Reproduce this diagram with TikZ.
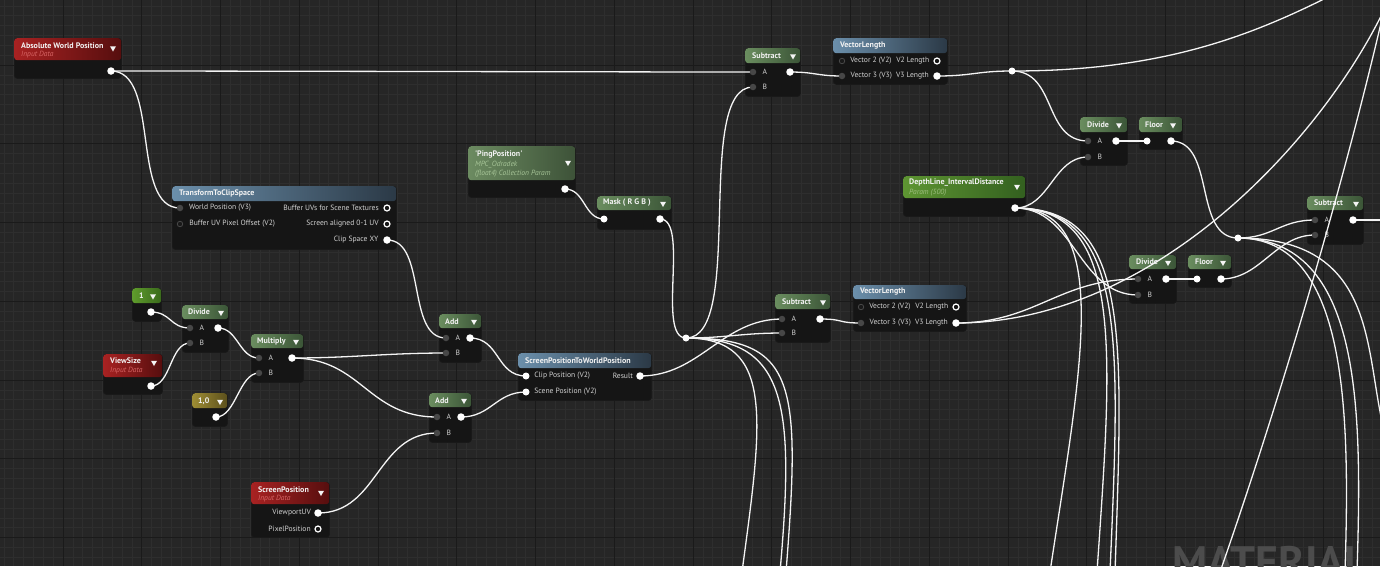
\documentclass[tikz,border=0pt]{standalone}
\usepackage{fontspec}
\setmainfont{PT Sans}
\usetikzlibrary{positioning,shapes.geometric}
\definecolor{canvas}{HTML}{262626}
\definecolor{gridminor}{HTML}{2E2E2E}
\definecolor{gridmajor}{HTML}{1A1A1A}
\definecolor{bodyc}{HTML}{151515}
\definecolor{titlec}{HTML}{F2F2F2}
\definecolor{lblc}{HTML}{D2D2D2}
\definecolor{pinc}{HTML}{474747}
\definecolor{wirec}{HTML}{F4F4F4}
\definecolor{mathL}{HTML}{6A8D5F}
\definecolor{mathR}{HTML}{3B5537}
\definecolor{inL}{HTML}{A82222}
\definecolor{inR}{HTML}{560E0E}
\definecolor{funL}{HTML}{6B8FAB}
\definecolor{funR}{HTML}{2B3946}
\definecolor{cstL}{HTML}{5F9C2C}
\definecolor{cstR}{HTML}{3A6A1C}
\definecolor{vecL}{HTML}{9E8D34}
\definecolor{vecR}{HTML}{5C501C}
\definecolor{parL}{HTML}{5E9532}
\definecolor{parR}{HTML}{33601F}
\definecolor{mpcL}{HTML}{6C8B61}
\definecolor{mpcR}{HTML}{3D5238}
\definecolor{subinc}{HTML}{D86666}
\definecolor{submpc}{HTML}{A6C497}
\definecolor{subpar}{HTML}{9FBF80}
\definecolor{wmarkc}{HTML}{4C4C4C}
\pgfdeclarelayer{grid}
\pgfdeclarelayer{wires}
\pgfdeclarelayer{pins}
\pgfsetlayers{grid,main,wires,pins}
\tikzset{
  every node/.style={font=\fontsize{7.6}{9}\selectfont,text=lblc,inner sep=0pt},
  minorgrid/.style={draw=gridminor,line width=0.6pt},
  majorgrid/.style={draw=gridmajor,line width=1pt},
  body/.style={draw=black!90,line width=0.8pt,fill=bodyc,rounded corners=3pt,anchor=north west},
  hdr/.style={rounded corners=3pt,anchor=north west},
  mathhdr/.style={hdr,left color=mathL,right color=mathR},
  inhdr/.style={hdr,left color=inL,right color=inR},
  funhdr/.style={hdr,left color=funL,right color=funR},
  csthdr/.style={hdr,left color=cstL,right color=cstR},
  vechdr/.style={hdr,left color=vecL,right color=vecR},
  parhdr/.style={hdr,left color=parL,right color=parR},
  mpchdr/.style={hdr,left color=mpcL,right color=mpcR},
  title/.style={anchor=west,font=\fontsize{8}{9}\selectfont\bfseries,text=titlec},
  subin/.style={anchor=west,font=\fontsize{7.5}{8}\selectfont\itshape,text=subinc},
  submpc/.style={anchor=west,font=\fontsize{7.5}{8}\selectfont\itshape,text=submpc},
  subpar/.style={anchor=west,font=\fontsize{7.5}{8}\selectfont\itshape,text=subpar},
  lbl/.style={text=lblc},
  dd/.style={regular polygon,regular polygon sides=3,shape border rotate=180,fill=titlec!85,minimum size=7pt},
  ipin/.style={circle,fill=pinc,minimum size=6.5pt},
  ifree/.style={circle,draw=pinc,fill=black!90,line width=0.8pt,minimum size=5.5pt},
  iwhite/.style={circle,fill=white,minimum size=7pt},
  opin/.style={circle,fill=white,minimum size=7.5pt},
  ofree/.style={circle,draw=white,fill=bodyc,line width=1.2pt,minimum size=6pt},
  knot/.style={circle,fill=white,minimum size=7pt},
  wire/.style={draw=wirec,line width=1.3pt,line cap=round},
  wmark/.style={anchor=base west,font=\fontsize{44}{44}\selectfont\bfseries,text=wmarkc},
}

\begin{document}
\begin{tikzpicture}[x=1pt,y=-1pt]
\useasboundingbox (0,0) rectangle (1380,566);
\clip (0,0) rectangle (1380,566);

\begin{pgfonlayer}{grid}
\fill[canvas] (0,0) rectangle (1380,566);
\foreach \g in {0,...,140} \draw[minorgrid] ({3.94+\g*9.84375},0) -- ++(0,566);
\foreach \g in {0,...,58} \draw[minorgrid] (0,{5.94+\g*9.84375}) -- ++(1380,0);
\foreach \g in {0,...,17} \draw[majorgrid] ({63+(\g-1)*78.75},0) -- ++(0,566);
\foreach \g in {0,...,7} \draw[majorgrid] (0,{65+(\g-1)*78.75}) -- ++(1380,0);
\end{pgfonlayer}

\node[wmark] (wm) at (1172,577) {MATERIAL};

% inputs on the left
\node[body,minimum width=107pt,minimum height=40pt] (awp) at (14,38) {};
\node[inhdr,minimum width=107pt,minimum height=22pt] (awph) at (awp.north west) {};
\node[title] (awpt) at (21,45.5) {Absolute World Position};
\node[subin] (awps) at (21,55) {Input Data};
\node[dd] (awpd) at (113,48) {};

\node[body,minimum width=224pt,minimum height=63pt] (tcs) at (172,186) {};
\node[funhdr,minimum width=224pt,minimum height=15pt] (tcsh) at (tcs.north west) {};
\node[title] (tcst) at (179,193.5) {TransformToClipSpace};

\node[body,minimum width=29pt,minimum height=33pt] (cone) at (132,288) {};
\node[csthdr,minimum width=29pt,minimum height=15pt] (coneh) at (cone.north west) {};
\node[title] (conet) at (139,295.5) {1};
\node[dd] (coned) at (153,296) {};

\node[body,minimum width=46pt,minimum height=47pt] (divl) at (182,305) {};
\node[mathhdr,minimum width=46pt,minimum height=14pt] (divlh) at (divl.north west) {};
\node[title] (divlt) at (188,312) {Divide};
\node[dd] (divld) at (221,312.5) {};

\node[body,minimum width=59pt,minimum height=40pt] (vsz) at (103,354) {};
\node[inhdr,minimum width=59pt,minimum height=23pt] (vszh) at (vsz.north west) {};
\node[title] (vszt) at (110,361) {ViewSize};
\node[subin] (vszs) at (110,370.5) {Input Data};
\node[dd] (vszd) at (154,362.5) {};

\node[body,minimum width=52pt,minimum height=48pt] (mul) at (251,334) {};
\node[mathhdr,minimum width=52pt,minimum height=14pt] (mulh) at (mul.north west) {};
\node[title] (mult) at (257,341) {Multiply};
\node[dd] (muld) at (296,341.5) {};

\node[body,minimum width=35pt,minimum height=33pt] (cten) at (192,393) {};
\node[vechdr,minimum width=35pt,minimum height=15pt] (ctenh) at (cten.north west) {};
\node[title] (ctent) at (198,401) {1,0};
\node[dd] (ctend) at (220,401.5) {};

\node[body,minimum width=42pt,minimum height=48pt] (addu) at (439,314) {};
\node[mathhdr,minimum width=42pt,minimum height=14pt] (adduh) at (addu.north west) {};
\node[title] (addut) at (445,321.5) {Add};
\node[dd] (addud) at (474,321.5) {};

\node[body,minimum width=42pt,minimum height=49pt] (addl) at (429,393) {};
\node[mathhdr,minimum width=42pt,minimum height=14pt] (addlh) at (addl.north west) {};
\node[title] (addlt) at (435,400.5) {Add};
\node[dd] (addld) at (464,400.5) {};

\node[body,minimum width=133pt,minimum height=47pt] (spw) at (518,353) {};
\node[funhdr,minimum width=133pt,minimum height=15pt] (spwh) at (spw.north west) {};
\node[title] (spwt) at (525,361) {ScreenPositionToWorldPosition};

\node[body,minimum width=78pt,minimum height=55pt] (scp) at (251,482) {};
\node[inhdr,minimum width=78pt,minimum height=22pt] (scph) at (scp.north west) {};
\node[title] (scpt) at (258,489.5) {ScreenPosition};
\node[subin] (scps) at (258,498.5) {Input Data};
\node[dd] (scpd) at (321,492.5) {};

% collection parameter and mask
\node[body,minimum width=107pt,minimum height=51pt] (ping) at (468,146) {};
\node[mpchdr,minimum width=107pt,minimum height=34pt] (pingh) at (ping.north west) {};
\node[title] (pingt) at (475,154) {\textquotesingle PingPosition\textquotesingle};
\node[submpc] (pings) at (475,165) {MPC\_Odradek};
\node[submpc] (pingc) at (475,173.5) {(float4) Collection Param};
\node[dd] (pingd) at (568,162.5) {};

\node[body,minimum width=74pt,minimum height=33pt] (mask) at (597,196) {};
\node[mathhdr,minimum width=74pt,minimum height=14pt] (maskh) at (mask.north west) {};
\node[title] (maskt) at (603,203) {Mask ( R G B )};
\node[dd] (maskd) at (663,203.5) {};

% distance chain
\node[body,minimum width=55pt,minimum height=48pt] (subt) at (745,48) {};
\node[mathhdr,minimum width=55pt,minimum height=15pt] (subth) at (subt.north west) {};
\node[title] (subtt) at (752,55.5) {Subtract};
\node[dd] (subtd) at (793,56) {};

\node[body,minimum width=114pt,minimum height=46pt] (vlt) at (833,38) {};
\node[funhdr,minimum width=114pt,minimum height=15pt] (vlth) at (vlt.north west) {};
\node[title] (vltt) at (840,45.5) {VectorLength};

\node[body,minimum width=55pt,minimum height=48pt] (subm) at (775,294) {};
\node[mathhdr,minimum width=55pt,minimum height=15pt] (submh) at (subm.north west) {};
\node[title] (submt) at (782,301.5) {Subtract};
\node[dd] (submd) at (823,302) {};

\node[body,minimum width=113pt,minimum height=46pt] (vlm) at (853,285) {};
\node[funhdr,minimum width=113pt,minimum height=14pt] (vlmh) at (vlm.north west) {};
\node[title] (vlmt) at (860,291.5) {VectorLength};

\node[body,minimum width=122pt,minimum height=40pt] (dep) at (903,176) {};
\node[parhdr,minimum width=122pt,minimum height=22pt] (deph) at (dep.north west) {};
\node[title] (dept) at (909,183) {DepthLine\_IntervalDistance};
\node[subpar] (deps) at (909,192.5) {Param (500)};
\node[dd] (depd) at (1017,186.5) {};

\node[body,minimum width=47pt,minimum height=48pt] (divt) at (1080,117) {};
\node[mathhdr,minimum width=47pt,minimum height=15pt] (divth) at (divt.north west) {};
\node[title] (divtt) at (1087,124.5) {Divide};
\node[dd] (divtd) at (1119,125) {};

\node[body,minimum width=43pt,minimum height=32pt] (flt) at (1139,117) {};
\node[mathhdr,minimum width=43pt,minimum height=15pt] (flth) at (flt.north west) {};
\node[title] (fltt) at (1145,124.5) {Floor};
\node[dd] (fltd) at (1173,125) {};

\node[body,minimum width=47pt,minimum height=48pt] (divm) at (1129,255) {};
\node[mathhdr,minimum width=47pt,minimum height=14pt] (divmh) at (divm.north west) {};
\node[title] (divmt) at (1136,262) {Divide};
\node[dd] (divmd) at (1168,262.5) {};

\node[body,minimum width=43pt,minimum height=32pt] (flm) at (1188,255) {};
\node[mathhdr,minimum width=43pt,minimum height=14pt] (flmh) at (flm.north west) {};
\node[title] (flmt) at (1195,262) {Floor};
\node[dd] (flmd) at (1223,262.5) {};

\node[body,minimum width=56pt,minimum height=48pt] (subr) at (1307,196) {};
\node[mathhdr,minimum width=56pt,minimum height=14pt] (subrh) at (subr.north west) {};
\node[title] (subrt) at (1314,203) {Subtract};
\node[dd] (subrd) at (1356,203.5) {};

% pins and reroute knots
\begin{pgfonlayer}{pins}
\node[opin] (awpo) at (111,71) {};
\node[ipin] (tcs1) at (180,208) {};
\node[ifree] (tcs2) at (180,224) {};
\node[ofree] (tcso1) at (387,208) {};
\node[ofree] (tcso2) at (387,224) {};
\node[opin] (tcso3) at (387,240) {};
\node[opin] (coneo) at (151,312) {};
\node[ipin] (divla) at (190,328) {};
\node[ipin] (divlb) at (190,343) {};
\node[opin] (divlo) at (218,328) {};
\node[opin] (vszo) at (151,386) {};
\node[ipin] (mula) at (259,358) {};
\node[ipin] (mulb) at (259,373) {};
\node[opin] (mulo) at (292,358) {};
\node[opin] (cteno) at (216,417) {};
\node[ipin] (addua) at (446,338) {};
\node[ipin] (addub) at (446,353) {};
\node[opin] (adduo) at (470,338) {};
\node[ipin] (addla) at (437,417) {};
\node[ipin] (addlb) at (437,433) {};
\node[opin] (addlo) at (461,417) {};
\node[iwhite] (spwc) at (526,376) {};
\node[iwhite] (spws) at (526,392) {};
\node[opin] (spwr) at (640,376) {};
\node[opin] (scpv) at (318,513) {};
\node[ofree] (scpp) at (318,529) {};
\node[opin] (pingo) at (565,189) {};
\node[iwhite] (maski) at (604,219) {};
\node[opin] (masko) at (660,219) {};
\node[ipin] (subta) at (753,72) {};
\node[ipin] (subtb) at (753,87) {};
\node[opin] (subto) at (790,72) {};
\node[ifree] (vlt1) at (842,61) {};
\node[ipin] (vlt2) at (842,76) {};
\node[ofree] (vlto1) at (937,61) {};
\node[opin] (vlto2) at (937,76) {};
\node[ipin] (subma) at (782,319) {};
\node[ipin] (submb) at (782,333) {};
\node[opin] (submo) at (820,319) {};
\node[ifree] (vlm1) at (861,307) {};
\node[ipin] (vlm2) at (861,323) {};
\node[ofree] (vlmo1) at (956,307) {};
\node[opin] (vlmo2) at (956,323) {};
\node[opin] (depo) at (1015,208) {};
\node[ipin] (divta) at (1088,141) {};
\node[ipin] (divtb) at (1088,157) {};
\node[opin] (divto) at (1116,141) {};
\node[iwhite] (flti) at (1147,141) {};
\node[opin] (flto) at (1171,141) {};
\node[ipin] (divma) at (1138,279) {};
\node[ipin] (divmb) at (1138,295) {};
\node[opin] (divmo) at (1166,279) {};
\node[iwhite] (flmi) at (1197,279) {};
\node[opin] (flmo) at (1221,279) {};
\node[ipin] (subra) at (1315,220) {};
\node[ipin] (subrb) at (1315,235) {};
\node[opin] (subro) at (1353,220) {};
\node[knot] (kmask) at (686,338) {};
\node[knot] (klen) at (1012,71) {};
\node[knot] (kfloor) at (1238,238) {};
\end{pgfonlayer}

% pin labels
\node[lbl,right=5.5pt of tcs1] (tcs1l) {World Position (V3)};
\node[lbl,right=6pt of tcs2] (tcs2l) {Buffer UV Pixel Offset (V2)};
\node[lbl,left=4.5pt of tcso1] (tcso1l) {Buffer UVs for Scene Textures};
\node[lbl,left=4.5pt of tcso2] (tcso2l) {Screen aligned 0-1 UV};
\node[lbl,left=4.5pt of tcso3] (tcso3l) {Clip Space XY};
\node[lbl,right=6pt of divla] (divlal) {A};
\node[lbl,right=6pt of divlb] (divlbl) {B};
\node[lbl,right=6pt of mula] (mulal) {A};
\node[lbl,right=6pt of mulb] (mulbl) {B};
\node[lbl,right=6pt of addua] (addual) {A};
\node[lbl,right=6pt of addub] (addubl) {B};
\node[lbl,right=6pt of addla] (addlal) {A};
\node[lbl,right=6pt of addlb] (addlbl) {B};
\node[lbl,right=4.5pt of spwc] (spwcl) {Clip Position (V2)};
\node[lbl,right=4.5pt of spws] (spwsl) {Scene Position (V2)};
\node[lbl,left=3pt of spwr] (spwrl) {Result};
\node[lbl,left=3pt of scpv] (scpvl) {ViewportUV};
\node[lbl,left=3.5pt of scpp] (scppl) {PixelPosition};
\node[lbl,right=6pt of subta] (subtal) {A};
\node[lbl,right=6pt of subtb] (subtbl) {B};
\node[lbl,right=5pt of vlt1] (vlt1l) {Vector 2 (V2)};
\node[lbl,right=5pt of vlt2] (vlt2l) {Vector 3 (V3)};
\node[lbl,left=4pt of vlto1] (vlto1l) {V2 Length};
\node[lbl,left=4pt of vlto2] (vlto2l) {V3 Length};
\node[lbl,right=6pt of subma] (submal) {A};
\node[lbl,right=6pt of submb] (submbl) {B};
\node[lbl,right=5pt of vlm1] (vlm1l) {Vector 2 (V2)};
\node[lbl,right=5pt of vlm2] (vlm2l) {Vector 3 (V3)};
\node[lbl,left=4pt of vlmo1] (vlmo1l) {V2 Length};
\node[lbl,left=4pt of vlmo2] (vlmo2l) {V3 Length};
\node[lbl,right=6pt of divta] (divtal) {A};
\node[lbl,right=6pt of divtb] (divtbl) {B};
\node[lbl,right=6pt of divma] (divmal) {A};
\node[lbl,right=6pt of divmb] (divmbl) {B};
\node[lbl,right=6pt of subra] (subral) {A};
\node[lbl,right=6pt of subrb] (subrbl) {B};

% wires leaving the view
\coordinate (kmaskd1) at (742,572);
\coordinate (kmaskd2) at (780,572);
\coordinate (kmaskd3) at (786,572);
\coordinate (klenup) at (1330,-4);
\coordinate (depd1) at (1050,572);
\coordinate (depd2) at (1097,572);
\coordinate (depd3) at (1110,572);
\coordinate (depd4) at (1115,572);
\coordinate (offne) at (1384,10);
\coordinate (offsw) at (1220,572);
\coordinate (kfloord1) at (1345,572);
\coordinate (kfloord2) at (1357,572);
\coordinate (kfloore) at (1384,430);
\coordinate (subrx) at (1384,220);

\begin{pgfonlayer}{wires}
\draw[wire] (awpo.center) .. controls +(120,0) and +(-120,0) .. (subta.center);
\draw[wire] (awpo.center) .. controls +(50,0) and +(-50,0) .. (tcs1.center);
\draw[wire] (tcso3.center) .. controls +(40,0) and +(-40,0) .. (addua.center);
\draw[wire] (coneo.center) .. controls +(20,0) and +(-20,0) .. (divla.center);
\draw[wire] (vszo.center) .. controls +(20,0) and +(-20,0) .. (divlb.center);
\draw[wire] (divlo.center) .. controls +(20,0) and +(-20,0) .. (mula.center);
\draw[wire] (cteno.center) .. controls +(20,0) and +(-20,0) .. (mulb.center);
\draw[wire] (mulo.center) .. controls +(60,0) and +(-60,0) .. (addub.center);
\draw[wire] (mulo.center) .. controls +(70,0) and +(-70,0) .. (addla.center);
\draw[wire] (scpv.center) .. controls +(60,0) and +(-60,0) .. (addlb.center);
\draw[wire] (adduo.center) .. controls +(30,0) and +(-30,0) .. (spwc.center);
\draw[wire] (addlo.center) .. controls +(30,0) and +(-30,0) .. (spws.center);
\draw[wire] (spwr.center) .. controls +(60,0) and +(-60,0) .. (subma.center);
\draw[wire] (pingo.center) .. controls +(20,0) and +(-20,0) .. (maski.center);
\draw[wire] (masko.center) .. controls +(30,0) and +(-30,0) .. (kmask.center);
\draw[wire] (kmask.center) .. controls +(60,0) and +(-60,0) .. (subtb.center);
\draw[wire] (kmask.center) .. controls +(40,0) and +(-40,0) .. (submb.center);
\draw[wire] (kmask.center) .. controls +(90,0) and +(20,-150) .. (kmaskd1);
\draw[wire] (kmask.center) .. controls +(100,0) and +(15,-170) .. (kmaskd2);
\draw[wire] (kmask.center) .. controls +(110,0) and +(15,-190) .. (kmaskd3);
\draw[wire] (subto.center) .. controls +(25,0) and +(-25,0) .. (vlt2.center);
\draw[wire] (vlto2.center) .. controls +(35,0) and +(-35,0) .. (klen.center);
\draw[wire] (klen.center) .. controls +(150,0) and +(-80,40) .. (klenup);
\draw[wire] (klen.center) .. controls +(45,0) and +(-45,0) .. (divta.center);
\draw[wire] (divto.center) -- (flti.center);
\draw[wire] (flto.center) .. controls +(45,0) and +(-45,0) .. (kfloor.center);
\draw[wire] (depo.center) .. controls +(35,0) and +(-35,0) .. (divtb.center);
\draw[wire] (depo.center) .. controls +(60,0) and +(-60,0) .. (divmb.center);
\draw[wire] (depo.center) .. controls +(100,0) and +(30,-200) .. (depd1);
\draw[wire] (depo.center) .. controls +(110,0) and +(15,-220) .. (depd2);
\draw[wire] (depo.center) .. controls +(112,0) and +(10,-230) .. (depd3);
\draw[wire] (depo.center) .. controls +(116,0) and +(8,-240) .. (depd4);
\draw[wire] (submo.center) .. controls +(25,0) and +(-25,0) .. (vlm2.center);
\draw[wire] (vlmo2.center) .. controls +(80,0) and +(-80,0) .. (divma.center);
\draw[wire] (vlmo2.center) .. controls +(200,0) and +(-62,128) .. (offne);
\draw[wire] (divmo.center) -- (flmi.center);
\draw[wire] (flmo.center) .. controls +(40,0) and +(-40,0) .. (subrb.center);
\draw[wire] (kfloor.center) .. controls +(35,0) and +(-35,0) .. (subra.center);
\draw[wire] (kfloor.center) .. controls +(110,0) and +(5,-160) .. (kfloord1);
\draw[wire] (kfloor.center) .. controls +(125,0) and +(5,-160) .. (kfloord2);
\draw[wire] (kfloor.center) .. controls +(140,0) and +(-20,-80) .. (kfloore);
\draw[wire] (subro.center) -- (subrx);
\draw[wire] (offne) .. controls (1345,180) and (1280,400) .. (offsw);
\end{pgfonlayer}

\end{tikzpicture}
\end{document}
